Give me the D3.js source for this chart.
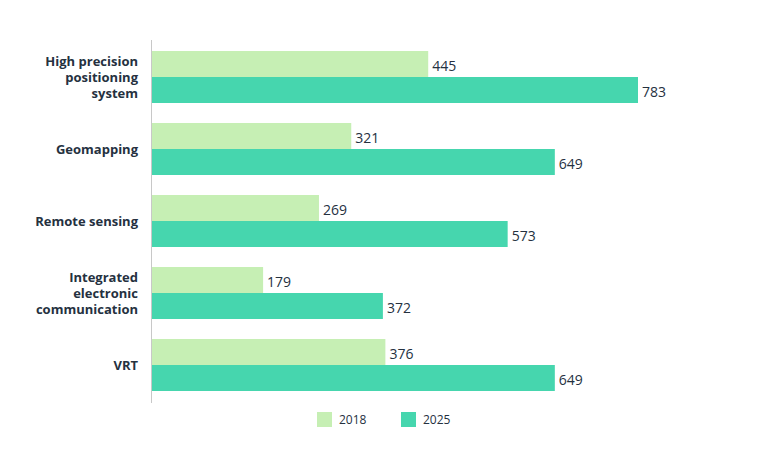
<!DOCTYPE html>
<html>
<head>
<meta charset="utf-8">
<script src="https://cdn.jsdelivr.net/npm/d3@7"></script>
<style>
  body { margin: 0; background: #fff; }
  text { font-family: "Open Sans", sans-serif; fill: #25313f; }
</style>
</head>
<body>
<div id="chart"></div>
<script>
// Data
var categories = [
  ["High precision", "positioning", "system"],
  ["Geomapping"],
  ["Remote sensing"],
  ["Integrated", "electronic", "communication"],
  ["VRT"]
];
var seriesNames = ["2018", "2025"];
var values2018 = [445, 321, 269, 179, 376];
var values2025 = [783, 649, 573, 372, 649];
var colors = ["#c6efb4", "#46d6ae"];

var svgWidth = 768;
var svgHeight = 450;

var svg = d3.select("#chart")
  .append("svg")
  .attr("width", svgWidth)
  .attr("height", svgHeight);

var x = d3.scaleLinear()
  .domain([0, 783])
  .range([152, 638]);

var y = d3.scaleBand()
  .domain(d3.range(categories.length))
  .range([41, 401])
  .paddingInner(0.278)
  .paddingOuter(0.139);

var sub = d3.scaleBand()
  .domain(seriesNames)
  .range([0, y.bandwidth()]);

var rows = categories.map(function(c, i) {
  return { i: i, label: c, v: [values2018[i], values2025[i]] };
});

var groups = svg.selectAll(".grp")
  .data(rows)
  .enter()
  .append("g")
  .attr("transform", d => `translate(0, ${y(d.i)})`);

seriesNames.forEach(function(s, k) {
  groups.append("rect")
    .attr("x", x(0))
    .attr("y", sub(s))
    .attr("width", d => x(d.v[k]) - x(0))
    .attr("height", sub.bandwidth())
    .attr("fill", colors[k]);

  groups.append("text")
    .attr("x", d => x(d.v[k]) + 4)
    .attr("y", sub(s) + sub.bandwidth() / 2 + 2)
    .attr("dy", "0.38em")
    .style("font-size", "14px")
    .text(d => d.v[k]);
});

// category labels
groups.append("text")
  .attr("text-anchor", "end")
  .style("font-size", "13px")
  .style("font-weight", "bold")
  .each(function(d) {
    var n = d.label.length;
    var t = d3.select(this);
    d.label.forEach(function(line, j) {
      t.append("tspan")
        .attr("x", 138)
        .attr("y", y.bandwidth() / 2 + (j - (n - 1) / 2) * 16)
        .attr("dy", "0.35em")
        .text(line);
    });
  });

// axis line
svg.append("line")
  .attr("x1", 151.5).attr("x2", 151.5)
  .attr("y1", 40).attr("y2", 403)
  .attr("stroke", "#c8c8c8")
  .attr("stroke-width", 1);

// legend
var legendX = [317, 401];
var legend = svg.selectAll(".leg")
  .data(seriesNames)
  .enter()
  .append("g")
  .attr("transform", (d, i) => `translate(${legendX[i]}, 412)`);

legend.append("rect")
  .attr("width", 15).attr("height", 15)
  .attr("fill", (d, i) => colors[i]);

legend.append("text")
  .attr("x", 22)
  .attr("y", 7.5)
  .attr("dy", "0.35em")
  .style("font-size", "12px")
  .text(d => d);
</script>
</body>
</html>
